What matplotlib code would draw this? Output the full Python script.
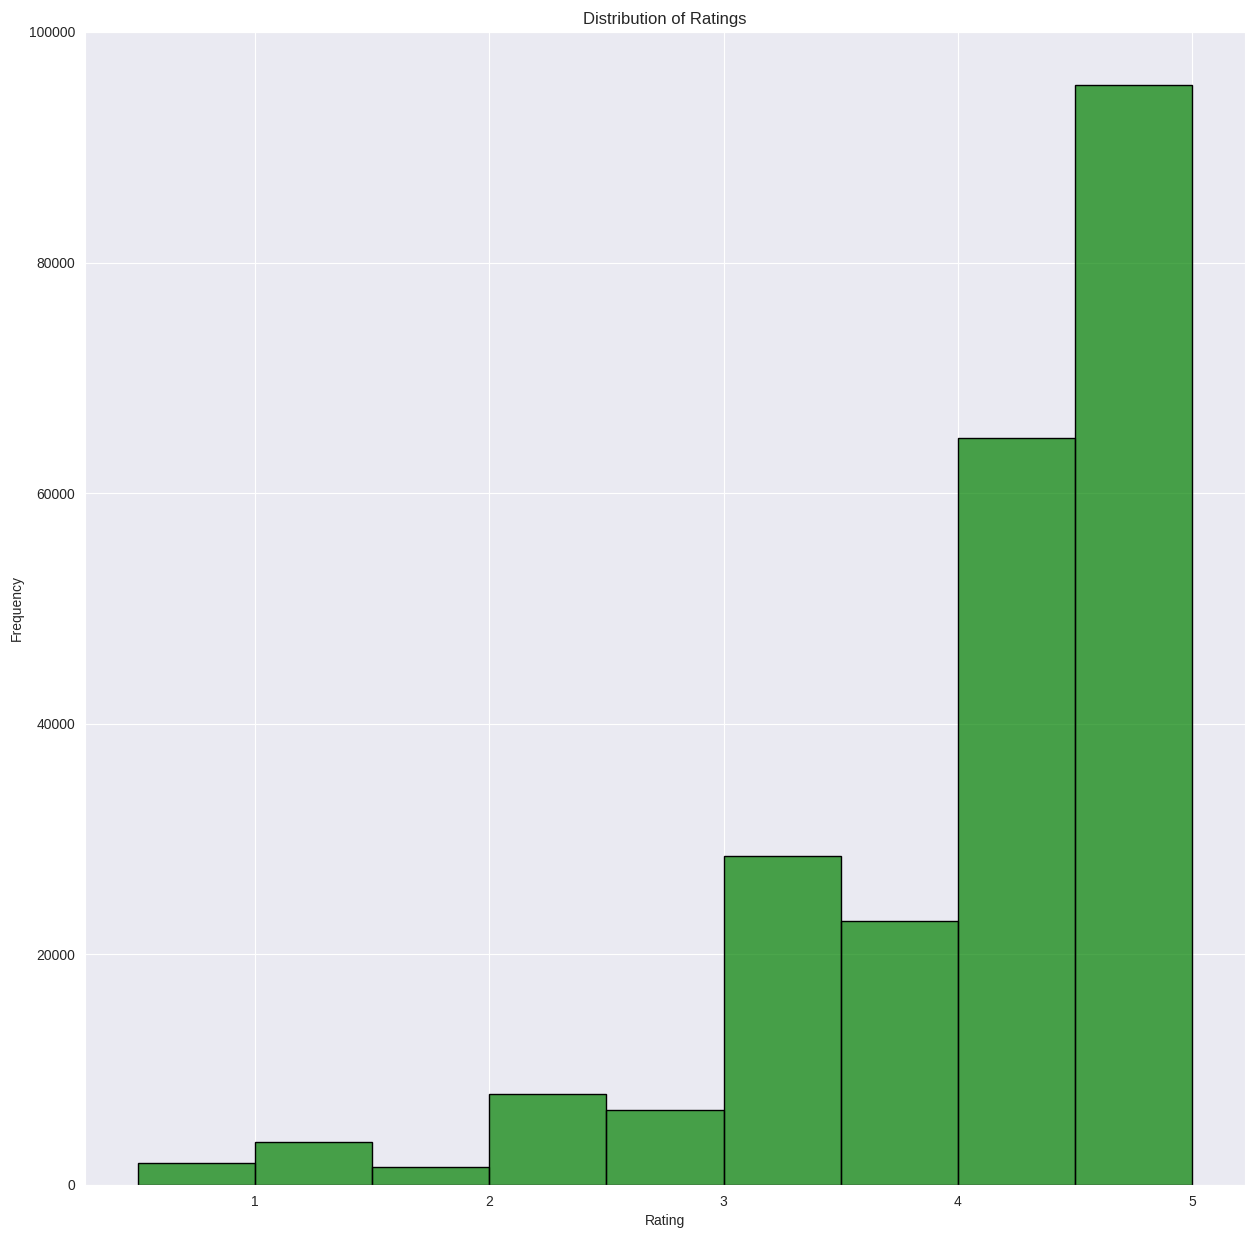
import matplotlib
matplotlib.use("Agg")
import matplotlib.pyplot as plt
import seaborn as sns

# histogram bins (rating) and counts
bin_edges = [0.5, 1.0, 1.5, 2.0, 2.5, 3.0, 3.5, 4.0, 4.5, 5.0]
counts = [1900, 3700, 1550, 7900, 6500, 28500, 22900, 64800, 95400]

sns.set_style("darkgrid")
plt.rcParams['font.family'] = ['Liberation Sans', 'DejaVu Sans']

fig = plt.figure(figsize=(12.56, 12.35), dpi=100)
ax = fig.add_axes([0.0677, 0.0405, 0.9235, 0.9336])

# alpha on the face only, edges stay solid black
ax.bar(bin_edges[:-1], counts, width=0.5, align='edge',
       facecolor=(0, 0.5, 0, 0.7), edgecolor='black', linewidth=1)
ax.set_xlim(0.275, 5.225)
ax.set_ylim(0, 100000)
ax.set_title("Distribution of Ratings", fontsize=12)
ax.set_xlabel("Rating", fontsize=10)
ax.set_ylabel("Frequency", fontsize=10)
ax.tick_params(labelsize=10)

fig.savefig("out.png", dpi=100)
